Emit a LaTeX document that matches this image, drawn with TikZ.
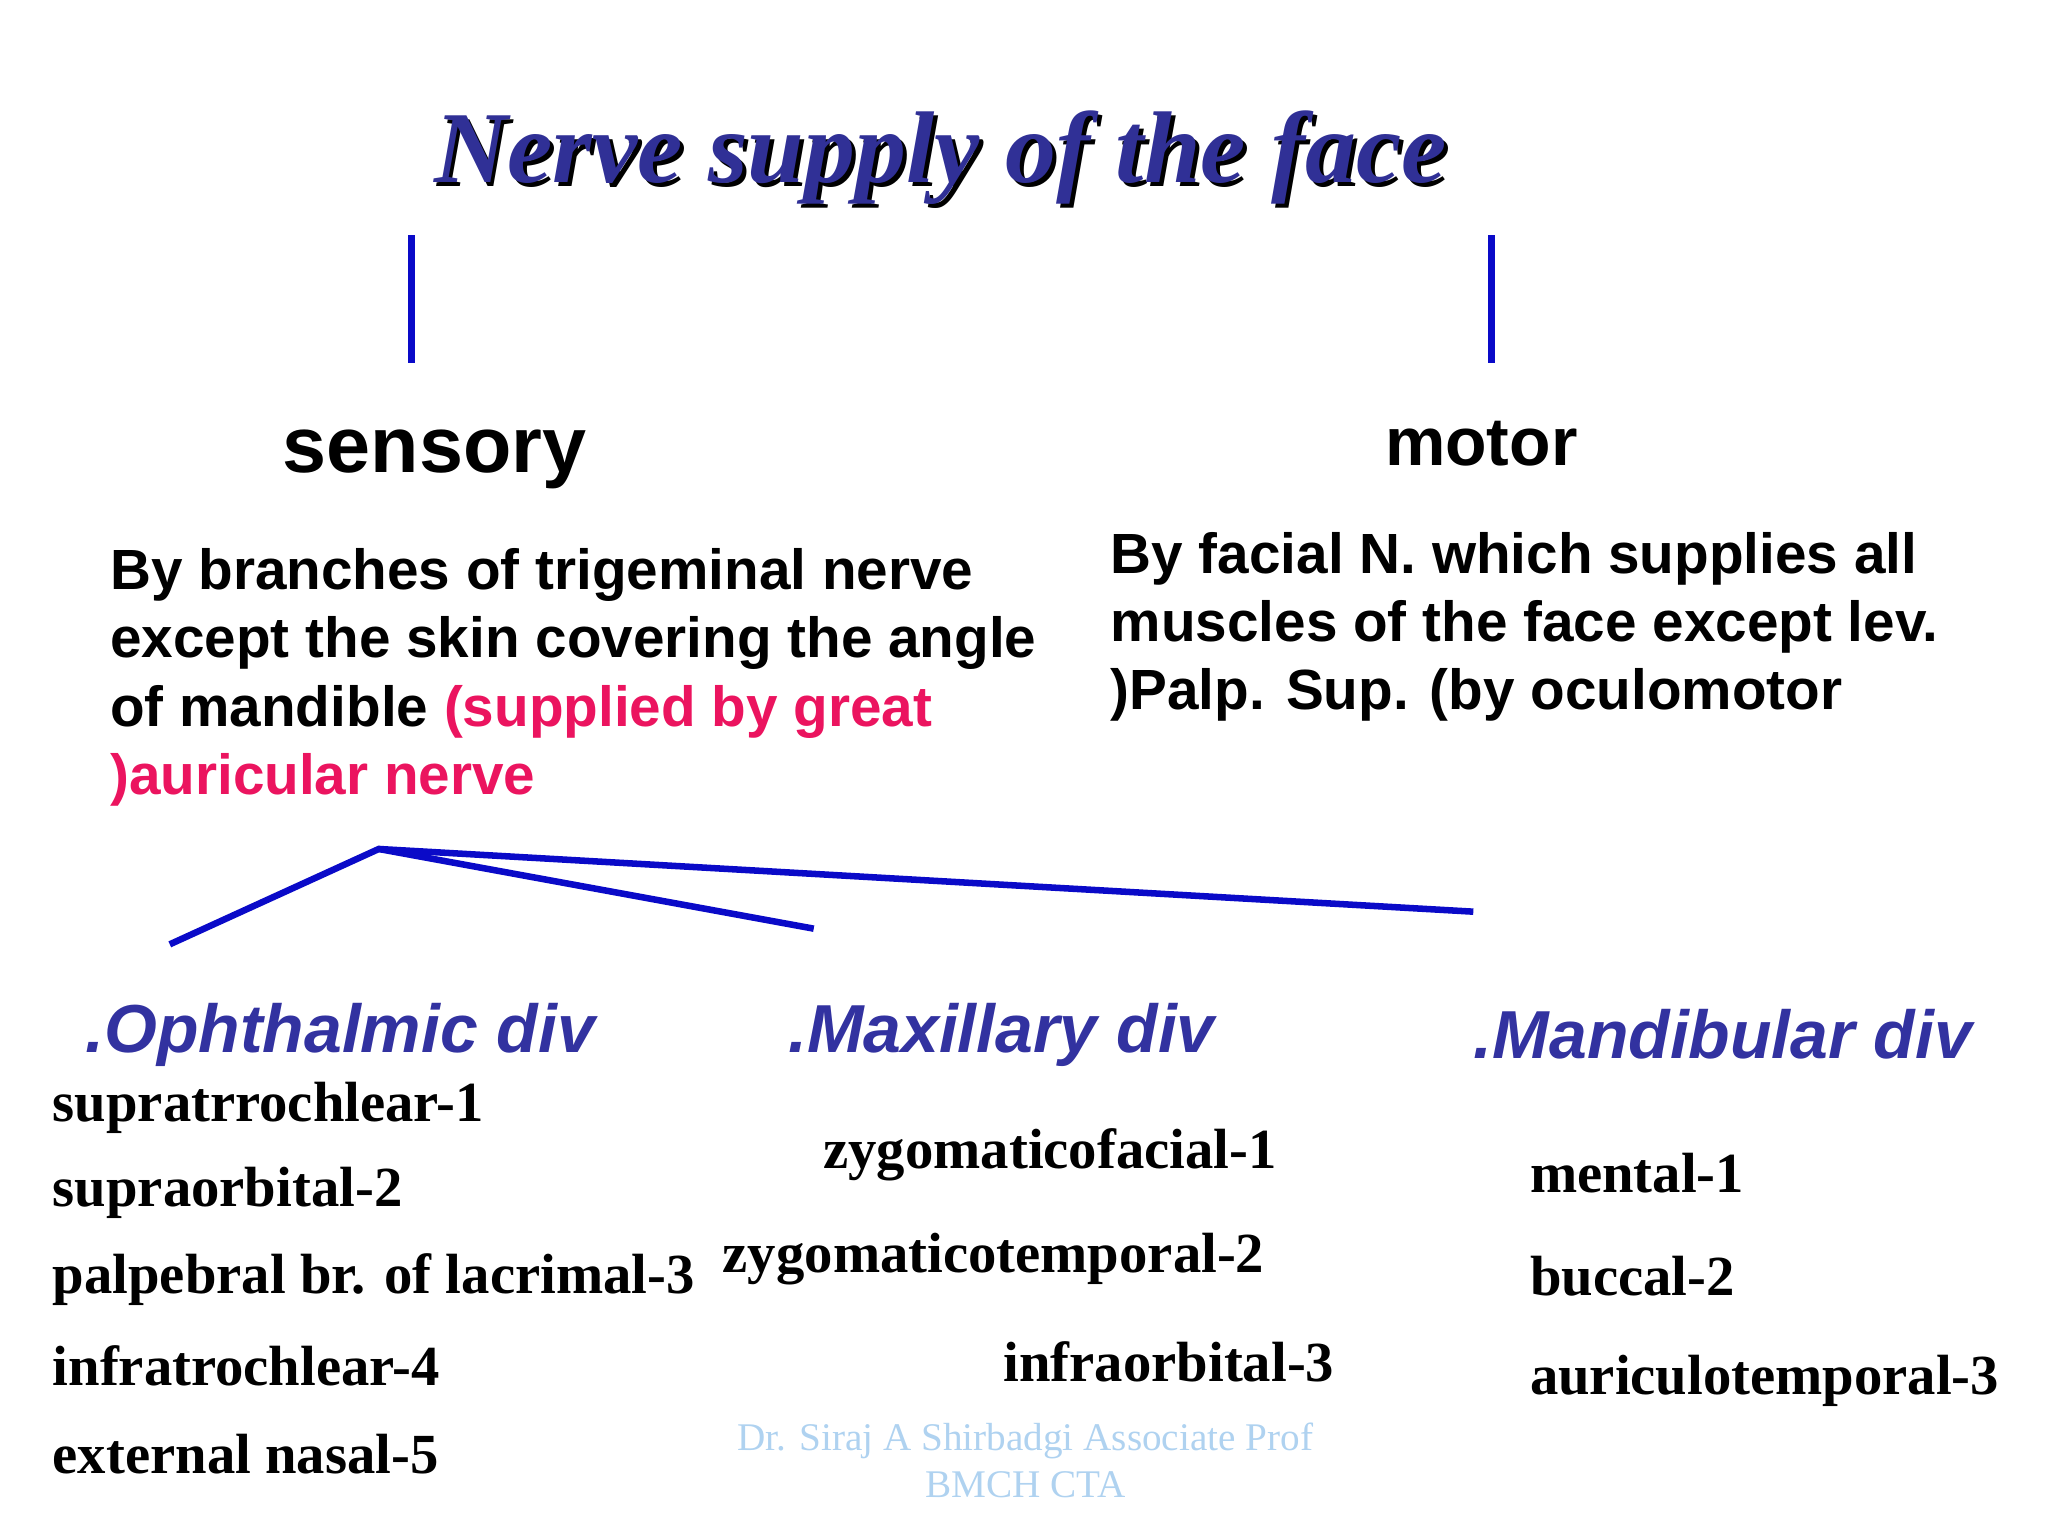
\documentclass[tikz,border=0pt]{standalone}
\usepackage{fontspec}
\setmainfont{Liberation Serif}
\setsansfont{Liberation Sans}
\definecolor{ttl}{RGB}{48,48,150}
\definecolor{ln}{RGB}{10,10,200}
\definecolor{dv}{RGB}{50,50,160}
\definecolor{rd}{RGB}{235,20,95}
\definecolor{wm}{RGB}{175,210,240}
\begin{document}
\begin{tikzpicture}[x=0.5pt,y=-0.5pt,
  every node/.style={inner sep=0pt,anchor=west},
  body/.style={font=\sffamily\bfseries\fontsize{21.7}{24}\selectfont},
  head/.style={font=\sffamily\bfseries\fontsize{26}{30}\selectfont},
  div/.style={text=dv,font=\sffamily\bfseries\itshape\fontsize{26}{29}\selectfont},
  item/.style={font=\rmfamily\bfseries\fontsize{21.7}{24}\selectfont},
  conn/.style={ln,line width=2.5pt}]
\useasboundingbox (0,0) rectangle (1568,1176);
\node[anchor=center,text=black,font=\rmfamily\bfseries\itshape\fontsize{39}{42}\selectfont] at (723,124) {Nerve supply of the face};
\node (title) [anchor=center,text=ttl,font=\rmfamily\bfseries\itshape\fontsize{39}{42}\selectfont] at (720,121) {Nerve supply of the face};
\coordinate (l1a) at (315,180); \coordinate (l1b) at (315,278);
\coordinate (l2a) at (1142,180); \coordinate (l2b) at (1142,278);
\draw[conn] (l1a) -- (l1b);
\draw[conn] (l2a) -- (l2b);
\node (sens) [head,font=\sffamily\bfseries\fontsize{30.3}{32}\selectfont] at (216,352) {sensory};
\node (mot) [head] at (1060,340) {motor};
\node[body] at (84,440) {By branches of trigeminal nerve};
\node[body] at (84,492) {except the skin covering the angle};
\node[body] at (84,545) {of mandible \textcolor{rd}{(supplied by great}};
\node[body,text=rd] at (84,597) {)auricular nerve};
\node[body] at (850,428) {By facial N. which supplies all};
\node[body] at (850,480) {muscles of the face except lev.};
\node[body] at (850,532) {)Palp. Sup. (by oculomotor};
\coordinate (root) at (290,650);
\coordinate (e1) at (130,723);
\coordinate (e2) at (623,711);
\coordinate (e3) at (1128,698);
\draw[conn] (e1) -- (root) -- (e2);
\draw[conn] (root) -- (e3);
\node (oph) [div] at (65,792) {.Ophthalmic div};
\node (max) [div] at (603,792) {.Maxillary div};
\node (man) [div] at (1128,792) {.Mandibular div};
\node[item] at (40,848) {supratrrochlear-1};
\node[item] at (40,913) {supraorbital-2};
\node[item] at (40,980) {palpebral br. of lacrimal-3};
\node[item] at (40,1046) {infratrochlear-4};
\node[item] at (40,1113) {external nasal-5};
\node[item] at (630,884) {zygomaticofacial-1};
\node[item] at (553,964) {zygomaticotemporal-2};
\node[item] at (768,1043) {infraorbital-3};
\node[item] at (1171,898) {mental-1};
\node[item] at (1171,977) {buccal-2};
\node[item] at (1171,1057) {auriculotemporal-3};
\node[anchor=center,text=wm,align=center,font=\rmfamily\fontsize{15}{18}\selectfont] at (785,1118) {Dr. Siraj A Shirbadgi Associate Prof\\BMCH CTA};
\end{tikzpicture}
\end{document}
